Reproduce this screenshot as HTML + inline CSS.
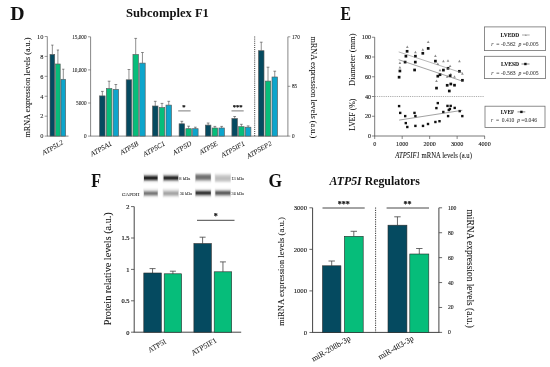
<!DOCTYPE html>
<html><head><meta charset="utf-8"><title>Figure</title>
<style>
html,body{margin:0;padding:0;background:#fff;}
svg{display:block;font-family:"Liberation Serif",serif;}
</style></head><body>
<svg width="550" height="367" viewBox="0 0 550 367">
<rect width="550" height="367" fill="#fff"/>
<g transform="translate(10.2 20.3) scale(1.0762 1)"><text x="0.00" y="0" font-size="18.4" fill="#111" stroke="#111" stroke-width="0" xml:space="preserve"><tspan font-weight="bold" font-style="normal">D</tspan></text></g>
<g transform="translate(340.4 20.3) scale(0.8556 1)"><text x="0.00" y="0" font-size="18.4" fill="#111" stroke="#111" stroke-width="0" xml:space="preserve"><tspan font-weight="bold" font-style="normal">E</tspan></text></g>
<g transform="translate(91.2 187.4) scale(0.8719 1)"><text x="0.00" y="0" font-size="18.4" fill="#111" stroke="#111" stroke-width="0" xml:space="preserve"><tspan font-weight="bold" font-style="normal">F</tspan></text></g>
<g transform="translate(268.5 187.2) scale(0.9502 1)"><text x="0.00" y="0" font-size="18.4" fill="#111" stroke="#111" stroke-width="0" xml:space="preserve"><tspan font-weight="bold" font-style="normal">G</tspan></text></g>
<g transform="translate(126 17.0) scale(0.9926 1)"><text x="0.00" y="0" font-size="12.7" fill="#111" stroke="#111" stroke-width="0" xml:space="preserve"><tspan font-weight="bold" font-style="normal">Subcomplex F1</tspan></text></g>
<g transform="translate(329.5 184.8) scale(0.9318 1)"><text x="0.00" y="0" font-size="12.7" fill="#111" stroke="#111" stroke-width="0" xml:space="preserve"><tspan font-weight="bold" font-style="italic">ATP5I</tspan><tspan font-weight="bold" font-style="normal"> Regulators</tspan></text></g>
<line x1="47.3" y1="36.5" x2="47.3" y2="136.1" stroke="#555" stroke-width="0.7"/>
<line x1="47.0" y1="136.1" x2="68.5" y2="136.1" stroke="#555" stroke-width="0.7"/>
<line x1="44.699999999999996" y1="36.5" x2="47.3" y2="36.5" stroke="#555" stroke-width="0.6"/>
<g transform="translate(43.5 38.8) scale(0.9200 1)"><text x="-7.00" y="0" font-size="7.0" fill="#111" stroke="#111" stroke-width="0.06" xml:space="preserve"><tspan font-weight="normal" font-style="normal">10</tspan></text></g>
<line x1="44.699999999999996" y1="56.42" x2="47.3" y2="56.42" stroke="#555" stroke-width="0.6"/>
<g transform="translate(43.5 58.72) scale(0.9200 1)"><text x="-3.50" y="0" font-size="7.0" fill="#111" stroke="#111" stroke-width="0.06" xml:space="preserve"><tspan font-weight="normal" font-style="normal">8</tspan></text></g>
<line x1="44.699999999999996" y1="76.34" x2="47.3" y2="76.34" stroke="#555" stroke-width="0.6"/>
<g transform="translate(43.5 78.64) scale(0.9200 1)"><text x="-3.50" y="0" font-size="7.0" fill="#111" stroke="#111" stroke-width="0.06" xml:space="preserve"><tspan font-weight="normal" font-style="normal">6</tspan></text></g>
<line x1="44.699999999999996" y1="96.26" x2="47.3" y2="96.26" stroke="#555" stroke-width="0.6"/>
<g transform="translate(43.5 98.56) scale(0.9200 1)"><text x="-3.50" y="0" font-size="7.0" fill="#111" stroke="#111" stroke-width="0.06" xml:space="preserve"><tspan font-weight="normal" font-style="normal">4</tspan></text></g>
<line x1="44.699999999999996" y1="116.18" x2="47.3" y2="116.18" stroke="#555" stroke-width="0.6"/>
<g transform="translate(43.5 118.48) scale(0.9200 1)"><text x="-3.50" y="0" font-size="7.0" fill="#111" stroke="#111" stroke-width="0.06" xml:space="preserve"><tspan font-weight="normal" font-style="normal">2</tspan></text></g>
<line x1="44.699999999999996" y1="136.10000000000002" x2="47.3" y2="136.10000000000002" stroke="#555" stroke-width="0.6"/>
<g transform="translate(43.5 138.40000000000003) scale(0.9200 1)"><text x="-3.50" y="0" font-size="7.0" fill="#111" stroke="#111" stroke-width="0.06" xml:space="preserve"><tspan font-weight="normal" font-style="normal">0</tspan></text></g>
<line x1="52.35" y1="45.1" x2="52.35" y2="54.5" stroke="#444" stroke-width="0.6"/>
<line x1="51.175" y1="45.1" x2="53.525000000000006" y2="45.1" stroke="#444" stroke-width="0.6"/>
<rect x="50" y="54.5" width="4.70" height="81.60" fill="#054a60" stroke="#5a5a5a" stroke-width="0.65"/>
<line x1="57.900000000000006" y1="50" x2="57.900000000000006" y2="64" stroke="#444" stroke-width="0.6"/>
<line x1="56.75000000000001" y1="50" x2="59.050000000000004" y2="50" stroke="#444" stroke-width="0.6"/>
<rect x="55.6" y="64" width="4.60" height="72.10" fill="#06bd7a" stroke="#5a5a5a" stroke-width="0.65"/>
<line x1="63.3" y1="69.2" x2="63.3" y2="79.3" stroke="#444" stroke-width="0.6"/>
<line x1="62.15" y1="69.2" x2="64.44999999999999" y2="69.2" stroke="#444" stroke-width="0.6"/>
<rect x="61" y="79.3" width="4.60" height="56.80" fill="#0ca5cc" stroke="#5a5a5a" stroke-width="0.65"/>
<g transform="translate(30.0 87.5) rotate(-90) scale(0.9793 1)"><text x="-51.06" y="0" font-size="8.3" fill="#111" stroke="#111" stroke-width="0.08" xml:space="preserve"><tspan font-weight="normal" font-style="normal">mRNA expression levels (a.u.)</tspan></text></g>
<line x1="90.6" y1="36.8" x2="90.6" y2="136.1" stroke="#555" stroke-width="0.7"/>
<line x1="90.3" y1="136.1" x2="288.2" y2="136.1" stroke="#555" stroke-width="0.7"/>
<line x1="88.0" y1="36.8" x2="90.6" y2="36.8" stroke="#555" stroke-width="0.6"/>
<g transform="translate(86.6 38.9) scale(0.8200 1)"><text x="-17.60" y="0" font-size="6.4" fill="#111" stroke="#111" stroke-width="0.08" xml:space="preserve"><tspan font-weight="normal" font-style="normal">15,000</tspan></text></g>
<line x1="88.0" y1="69.9" x2="90.6" y2="69.9" stroke="#555" stroke-width="0.6"/>
<g transform="translate(86.6 72.0) scale(0.8200 1)"><text x="-17.60" y="0" font-size="6.4" fill="#111" stroke="#111" stroke-width="0.08" xml:space="preserve"><tspan font-weight="normal" font-style="normal">10,000</tspan></text></g>
<line x1="88.0" y1="103.0" x2="90.6" y2="103.0" stroke="#555" stroke-width="0.6"/>
<g transform="translate(86.6 105.1) scale(0.8200 1)"><text x="-12.80" y="0" font-size="6.4" fill="#111" stroke="#111" stroke-width="0.08" xml:space="preserve"><tspan font-weight="normal" font-style="normal">5000</tspan></text></g>
<line x1="88.0" y1="136.10000000000002" x2="90.6" y2="136.10000000000002" stroke="#555" stroke-width="0.6"/>
<g transform="translate(86.6 138.20000000000002) scale(0.8200 1)"><text x="-3.20" y="0" font-size="6.4" fill="#111" stroke="#111" stroke-width="0.08" xml:space="preserve"><tspan font-weight="normal" font-style="normal">0</tspan></text></g>
<line x1="102.35" y1="91.4" x2="102.35" y2="95.9" stroke="#444" stroke-width="0.6"/>
<line x1="100.975" y1="91.4" x2="103.725" y2="91.4" stroke="#444" stroke-width="0.6"/>
<rect x="99.6" y="95.9" width="5.50" height="40.20" fill="#054a60" stroke="#5a5a5a" stroke-width="0.65"/>
<line x1="109.1" y1="81.2" x2="109.1" y2="88.6" stroke="#444" stroke-width="0.6"/>
<line x1="107.725" y1="81.2" x2="110.475" y2="81.2" stroke="#444" stroke-width="0.6"/>
<rect x="106.35" y="88.6" width="5.50" height="47.50" fill="#06bd7a" stroke="#5a5a5a" stroke-width="0.65"/>
<line x1="115.85" y1="84.5" x2="115.85" y2="89.4" stroke="#444" stroke-width="0.6"/>
<line x1="114.475" y1="84.5" x2="117.225" y2="84.5" stroke="#444" stroke-width="0.6"/>
<rect x="113.1" y="89.4" width="5.50" height="46.70" fill="#0ca5cc" stroke="#5a5a5a" stroke-width="0.65"/>
<line x1="128.95" y1="69.5" x2="128.95" y2="79.8" stroke="#444" stroke-width="0.6"/>
<line x1="127.57499999999999" y1="69.5" x2="130.325" y2="69.5" stroke="#444" stroke-width="0.6"/>
<rect x="126.2" y="79.8" width="5.50" height="56.30" fill="#054a60" stroke="#5a5a5a" stroke-width="0.65"/>
<line x1="135.7" y1="38.4" x2="135.7" y2="54.5" stroke="#444" stroke-width="0.6"/>
<line x1="134.325" y1="38.4" x2="137.075" y2="38.4" stroke="#444" stroke-width="0.6"/>
<rect x="132.95" y="54.5" width="5.50" height="81.60" fill="#06bd7a" stroke="#5a5a5a" stroke-width="0.65"/>
<line x1="142.45" y1="52.5" x2="142.45" y2="63.1" stroke="#444" stroke-width="0.6"/>
<line x1="141.075" y1="52.5" x2="143.825" y2="52.5" stroke="#444" stroke-width="0.6"/>
<rect x="139.7" y="63.1" width="5.50" height="73.00" fill="#0ca5cc" stroke="#5a5a5a" stroke-width="0.65"/>
<line x1="155.25" y1="101.3" x2="155.25" y2="106.0" stroke="#444" stroke-width="0.6"/>
<line x1="153.875" y1="101.3" x2="156.625" y2="101.3" stroke="#444" stroke-width="0.6"/>
<rect x="152.5" y="106.0" width="5.50" height="30.10" fill="#054a60" stroke="#5a5a5a" stroke-width="0.65"/>
<line x1="162.0" y1="103.4" x2="162.0" y2="107.6" stroke="#444" stroke-width="0.6"/>
<line x1="160.625" y1="103.4" x2="163.375" y2="103.4" stroke="#444" stroke-width="0.6"/>
<rect x="159.25" y="107.6" width="5.50" height="28.50" fill="#06bd7a" stroke="#5a5a5a" stroke-width="0.65"/>
<line x1="168.75" y1="101.3" x2="168.75" y2="105.1" stroke="#444" stroke-width="0.6"/>
<line x1="167.375" y1="101.3" x2="170.125" y2="101.3" stroke="#444" stroke-width="0.6"/>
<rect x="166.0" y="105.1" width="5.50" height="31.00" fill="#0ca5cc" stroke="#5a5a5a" stroke-width="0.65"/>
<line x1="181.85" y1="121.3" x2="181.85" y2="123.8" stroke="#444" stroke-width="0.6"/>
<line x1="180.475" y1="121.3" x2="183.225" y2="121.3" stroke="#444" stroke-width="0.6"/>
<rect x="179.1" y="123.8" width="5.50" height="12.30" fill="#054a60" stroke="#5a5a5a" stroke-width="0.65"/>
<line x1="188.6" y1="126.2" x2="188.6" y2="128.7" stroke="#444" stroke-width="0.6"/>
<line x1="187.225" y1="126.2" x2="189.975" y2="126.2" stroke="#444" stroke-width="0.6"/>
<rect x="185.85" y="128.7" width="5.50" height="7.40" fill="#06bd7a" stroke="#5a5a5a" stroke-width="0.65"/>
<line x1="195.35" y1="127.2" x2="195.35" y2="128.7" stroke="#444" stroke-width="0.6"/>
<line x1="193.975" y1="127.2" x2="196.725" y2="127.2" stroke="#444" stroke-width="0.6"/>
<rect x="192.6" y="128.7" width="5.50" height="7.40" fill="#0ca5cc" stroke="#5a5a5a" stroke-width="0.65"/>
<line x1="208.15" y1="123.0" x2="208.15" y2="125.1" stroke="#444" stroke-width="0.6"/>
<line x1="206.775" y1="123.0" x2="209.525" y2="123.0" stroke="#444" stroke-width="0.6"/>
<rect x="205.4" y="125.1" width="5.50" height="11.00" fill="#054a60" stroke="#5a5a5a" stroke-width="0.65"/>
<line x1="214.9" y1="126.4" x2="214.9" y2="128.0" stroke="#444" stroke-width="0.6"/>
<line x1="213.525" y1="126.4" x2="216.275" y2="126.4" stroke="#444" stroke-width="0.6"/>
<rect x="212.15" y="128.0" width="5.50" height="8.10" fill="#06bd7a" stroke="#5a5a5a" stroke-width="0.65"/>
<line x1="221.65" y1="126.4" x2="221.65" y2="128.0" stroke="#444" stroke-width="0.6"/>
<line x1="220.275" y1="126.4" x2="223.025" y2="126.4" stroke="#444" stroke-width="0.6"/>
<rect x="218.9" y="128.0" width="5.50" height="8.10" fill="#0ca5cc" stroke="#5a5a5a" stroke-width="0.65"/>
<line x1="234.65" y1="116.5" x2="234.65" y2="118.6" stroke="#444" stroke-width="0.6"/>
<line x1="233.275" y1="116.5" x2="236.025" y2="116.5" stroke="#444" stroke-width="0.6"/>
<rect x="231.9" y="118.6" width="5.50" height="17.50" fill="#054a60" stroke="#5a5a5a" stroke-width="0.65"/>
<line x1="241.4" y1="124.3" x2="241.4" y2="126.7" stroke="#444" stroke-width="0.6"/>
<line x1="240.025" y1="124.3" x2="242.775" y2="124.3" stroke="#444" stroke-width="0.6"/>
<rect x="238.65" y="126.7" width="5.50" height="9.40" fill="#06bd7a" stroke="#5a5a5a" stroke-width="0.65"/>
<line x1="248.15" y1="125.9" x2="248.15" y2="127.2" stroke="#444" stroke-width="0.6"/>
<line x1="246.775" y1="125.9" x2="249.525" y2="125.9" stroke="#444" stroke-width="0.6"/>
<rect x="245.4" y="127.2" width="5.50" height="8.90" fill="#0ca5cc" stroke="#5a5a5a" stroke-width="0.65"/>
<line x1="261.25" y1="42.2" x2="261.25" y2="50.7" stroke="#444" stroke-width="0.6"/>
<line x1="259.875" y1="42.2" x2="262.625" y2="42.2" stroke="#444" stroke-width="0.6"/>
<rect x="258.5" y="50.7" width="5.50" height="85.40" fill="#054a60" stroke="#5a5a5a" stroke-width="0.65"/>
<line x1="268.0" y1="67.2" x2="268.0" y2="81.1" stroke="#444" stroke-width="0.6"/>
<line x1="266.625" y1="67.2" x2="269.375" y2="67.2" stroke="#444" stroke-width="0.6"/>
<rect x="265.25" y="81.1" width="5.50" height="55.00" fill="#06bd7a" stroke="#5a5a5a" stroke-width="0.65"/>
<line x1="274.75" y1="71.2" x2="274.75" y2="77.0" stroke="#444" stroke-width="0.6"/>
<line x1="273.375" y1="71.2" x2="276.125" y2="71.2" stroke="#444" stroke-width="0.6"/>
<rect x="272.0" y="77.0" width="5.50" height="59.10" fill="#0ca5cc" stroke="#5a5a5a" stroke-width="0.65"/>
<line x1="254.7" y1="36.5" x2="254.7" y2="136.1" stroke="#222" stroke-width="0.9" stroke-dasharray="1 1.1"/>
<line x1="287.9" y1="36.8" x2="287.9" y2="136.1" stroke="#555" stroke-width="0.7"/>
<line x1="287.9" y1="36.8" x2="290.29999999999995" y2="36.8" stroke="#555" stroke-width="0.6"/>
<g transform="translate(292.0 38.9) scale(0.8200 1)"><text x="0.00" y="0" font-size="6.4" fill="#111" stroke="#111" stroke-width="0.08" xml:space="preserve"><tspan font-weight="normal" font-style="normal">170</tspan></text></g>
<line x1="287.9" y1="86.3" x2="290.29999999999995" y2="86.3" stroke="#555" stroke-width="0.6"/>
<g transform="translate(292.0 88.39999999999999) scale(0.8200 1)"><text x="0.00" y="0" font-size="6.4" fill="#111" stroke="#111" stroke-width="0.08" xml:space="preserve"><tspan font-weight="normal" font-style="normal">85</tspan></text></g>
<line x1="287.9" y1="136.1" x2="290.29999999999995" y2="136.1" stroke="#555" stroke-width="0.6"/>
<g transform="translate(292.0 138.2) scale(0.8200 1)"><text x="0.00" y="0" font-size="6.4" fill="#111" stroke="#111" stroke-width="0.08" xml:space="preserve"><tspan font-weight="normal" font-style="normal">0</tspan></text></g>
<g transform="translate(311.2 87.4) rotate(90) scale(0.9870 1)"><text x="-51.67" y="0" font-size="8.4" fill="#111" stroke="#111" stroke-width="0.06" xml:space="preserve"><tspan font-weight="normal" font-style="normal">mRNA expression levels (a.u.)</tspan></text></g>
<line x1="178.2" y1="110.9" x2="190.6" y2="110.9" stroke="#444" stroke-width="0.7"/>
<text x="184" y="109.0" font-size="6.6" text-anchor="middle" font-weight="bold" font-style="normal" fill="#111" stroke="#111" stroke-width="0.18">*</text>
<line x1="231.5" y1="110.9" x2="243.7" y2="110.9" stroke="#444" stroke-width="0.7"/>
<text x="237.6" y="109.0" font-size="6.6" text-anchor="middle" font-weight="bold" font-style="normal" fill="#111" stroke="#111" stroke-width="0.18">***</text>
<text x="63.8" y="143.8" font-size="7" text-anchor="end" font-weight="normal" font-style="italic" fill="#222" stroke="#222" stroke-width="0.05" transform="rotate(-30 63.8 143.8)">ATP5L2</text>
<text x="112.4" y="144.8" font-size="7" text-anchor="end" font-weight="normal" font-style="italic" fill="#222" stroke="#222" stroke-width="0.05" transform="rotate(-30 112.4 144.8)">ATP5A1</text>
<text x="139" y="145.1" font-size="7" text-anchor="end" font-weight="normal" font-style="italic" fill="#222" stroke="#222" stroke-width="0.05" transform="rotate(-30 139 145.1)">ATP5B</text>
<text x="165.5" y="144.8" font-size="7" text-anchor="end" font-weight="normal" font-style="italic" fill="#222" stroke="#222" stroke-width="0.05" transform="rotate(-30 165.5 144.8)">ATP5C1</text>
<text x="192.2" y="144.8" font-size="7" text-anchor="end" font-weight="normal" font-style="italic" fill="#222" stroke="#222" stroke-width="0.05" transform="rotate(-30 192.2 144.8)">ATP5D</text>
<text x="218.2" y="144.8" font-size="7" text-anchor="end" font-weight="normal" font-style="italic" fill="#222" stroke="#222" stroke-width="0.05" transform="rotate(-30 218.2 144.8)">ATP5E</text>
<text x="245.2" y="144.8" font-size="7" text-anchor="end" font-weight="normal" font-style="italic" fill="#222" stroke="#222" stroke-width="0.05" transform="rotate(-30 245.2 144.8)">ATP5IF1</text>
<text x="272.2" y="144.8" font-size="7" text-anchor="end" font-weight="normal" font-style="italic" fill="#222" stroke="#222" stroke-width="0.05" transform="rotate(-30 272.2 144.8)">ATP5EP2</text>
<line x1="374.7" y1="37.2" x2="374.7" y2="136.0" stroke="#555" stroke-width="0.8"/>
<line x1="374.3" y1="136.0" x2="484.9" y2="136.0" stroke="#555" stroke-width="0.8"/>
<line x1="371.9" y1="136.0" x2="374.7" y2="136.0" stroke="#555" stroke-width="0.7"/>
<text x="371.09999999999997" y="138.1" font-size="6.2" text-anchor="end" font-weight="normal" font-style="normal" fill="#111" stroke="#111" stroke-width="0.1">0</text>
<line x1="371.9" y1="116.25" x2="374.7" y2="116.25" stroke="#555" stroke-width="0.7"/>
<text x="371.09999999999997" y="118.35" font-size="6.2" text-anchor="end" font-weight="normal" font-style="normal" fill="#111" stroke="#111" stroke-width="0.1">20</text>
<line x1="371.9" y1="96.5" x2="374.7" y2="96.5" stroke="#555" stroke-width="0.7"/>
<text x="371.09999999999997" y="98.6" font-size="6.2" text-anchor="end" font-weight="normal" font-style="normal" fill="#111" stroke="#111" stroke-width="0.1">40</text>
<line x1="371.9" y1="76.75" x2="374.7" y2="76.75" stroke="#555" stroke-width="0.7"/>
<text x="371.09999999999997" y="78.85" font-size="6.2" text-anchor="end" font-weight="normal" font-style="normal" fill="#111" stroke="#111" stroke-width="0.1">60</text>
<line x1="371.9" y1="57.0" x2="374.7" y2="57.0" stroke="#555" stroke-width="0.7"/>
<text x="371.09999999999997" y="59.1" font-size="6.2" text-anchor="end" font-weight="normal" font-style="normal" fill="#111" stroke="#111" stroke-width="0.1">80</text>
<line x1="371.9" y1="37.25" x2="374.7" y2="37.25" stroke="#555" stroke-width="0.7"/>
<text x="371.09999999999997" y="39.35" font-size="6.2" text-anchor="end" font-weight="normal" font-style="normal" fill="#111" stroke="#111" stroke-width="0.1">100</text>
<line x1="374.7" y1="136.0" x2="374.7" y2="139.0" stroke="#555" stroke-width="0.7"/>
<text x="374.7" y="146.1" font-size="6.1" text-anchor="middle" font-weight="normal" font-style="normal" fill="#111" stroke="#111" stroke-width="0.1">0</text>
<line x1="402.18" y1="136.0" x2="402.18" y2="139.0" stroke="#555" stroke-width="0.7"/>
<text x="402.18" y="146.1" font-size="6.1" text-anchor="middle" font-weight="normal" font-style="normal" fill="#111" stroke="#111" stroke-width="0.1">1000</text>
<line x1="429.65999999999997" y1="136.0" x2="429.65999999999997" y2="139.0" stroke="#555" stroke-width="0.7"/>
<text x="429.65999999999997" y="146.1" font-size="6.1" text-anchor="middle" font-weight="normal" font-style="normal" fill="#111" stroke="#111" stroke-width="0.1">2000</text>
<line x1="457.14" y1="136.0" x2="457.14" y2="139.0" stroke="#555" stroke-width="0.7"/>
<text x="457.14" y="146.1" font-size="6.1" text-anchor="middle" font-weight="normal" font-style="normal" fill="#111" stroke="#111" stroke-width="0.1">3000</text>
<line x1="484.62" y1="136.0" x2="484.62" y2="139.0" stroke="#555" stroke-width="0.7"/>
<text x="484.62" y="146.1" font-size="6.1" text-anchor="middle" font-weight="normal" font-style="normal" fill="#111" stroke="#111" stroke-width="0.1">4000</text>
<line x1="374.7" y1="96.5" x2="484.6" y2="96.5" stroke="#8a8a8a" stroke-width="0.7" stroke-dasharray="1.2 1"/>
<g transform="translate(355.3 59.7) rotate(-90) scale(1.0215 1)"><text x="-25.70" y="0" font-size="8.3" fill="#111" stroke="#111" stroke-width="0.06" xml:space="preserve"><tspan font-weight="normal" font-style="normal">Diameter (mm)</tspan></text></g>
<g transform="translate(355.3 114.7) rotate(-90) scale(0.9274 1)"><text x="-17.25" y="0" font-size="8.3" fill="#111" stroke="#111" stroke-width="0.06" xml:space="preserve"><tspan font-weight="normal" font-style="normal">LVEF (%)</tspan></text></g>
<g transform="translate(395.2 157.8) scale(0.9168 1)"><text x="0.00" y="0" font-size="7.3" fill="#111" stroke="#111" stroke-width="0.06" xml:space="preserve"><tspan font-weight="normal" font-style="italic">ATP5IF1</tspan><tspan font-weight="normal" font-style="normal"> mRNA levels (a.u)</tspan></text></g>
<path d="M398.55 68.50L401.25 68.50L399.90 66.05Z" fill="#8c8c8c"/>
<path d="M398.55 63.90L401.25 63.90L399.90 61.45Z" fill="#8c8c8c"/>
<path d="M405.95 47.90L408.65 47.90L407.30 45.45Z" fill="#8c8c8c"/>
<path d="M414.05 53.30L416.75 53.30L415.40 50.85Z" fill="#8c8c8c"/>
<path d="M421.45 50.80L424.15 50.80L422.80 48.35Z" fill="#8c8c8c"/>
<path d="M426.85 43.00L429.55 43.00L428.20 40.55Z" fill="#8c8c8c"/>
<path d="M434.05 56.90L436.75 56.90L435.40 54.45Z" fill="#8c8c8c"/>
<path d="M435.15 81.90L437.85 81.90L436.50 79.45Z" fill="#8c8c8c"/>
<path d="M436.45 65.00L439.15 65.00L437.80 62.55Z" fill="#8c8c8c"/>
<path d="M442.05 62.20L444.75 62.20L443.40 59.75Z" fill="#8c8c8c"/>
<path d="M438.65 71.20L441.35 71.20L440.00 68.75Z" fill="#8c8c8c"/>
<path d="M446.65 61.80L449.35 61.80L448.00 59.35Z" fill="#8c8c8c"/>
<path d="M445.85 77.80L448.55 77.80L447.20 75.35Z" fill="#8c8c8c"/>
<path d="M448.75 67.10L451.45 67.10L450.10 64.65Z" fill="#8c8c8c"/>
<path d="M449.45 75.30L452.15 75.30L450.80 72.85Z" fill="#8c8c8c"/>
<path d="M453.15 77.80L455.85 77.80L454.50 75.35Z" fill="#8c8c8c"/>
<path d="M458.05 62.20L460.75 62.20L459.40 59.75Z" fill="#8c8c8c"/>
<path d="M461.05 74.70L463.75 74.70L462.40 72.25Z" fill="#8c8c8c"/>
<rect x="397.75" y="75.85" width="2.7" height="2.7" fill="#111"/>
<rect x="398.55" y="69.65" width="2.7" height="2.7" fill="#111"/>
<rect x="403.75" y="60.75" width="2.7" height="2.7" fill="#111"/>
<rect x="404.55" y="54.85" width="2.7" height="2.7" fill="#111"/>
<rect x="405.75" y="49.95" width="2.7" height="2.7" fill="#111"/>
<rect x="413.25" y="68.65" width="2.7" height="2.7" fill="#111"/>
<rect x="413.95" y="60.75" width="2.7" height="2.7" fill="#111"/>
<rect x="414.05" y="54.85" width="2.7" height="2.7" fill="#111"/>
<rect x="421.45" y="51.95" width="2.7" height="2.7" fill="#111"/>
<rect x="426.85" y="47.05" width="2.7" height="2.7" fill="#111"/>
<rect x="434.05" y="59.75" width="2.7" height="2.7" fill="#111"/>
<rect x="435.15" y="86.75" width="2.7" height="2.7" fill="#111"/>
<rect x="436.45" y="74.85" width="2.7" height="2.7" fill="#111"/>
<rect x="438.65" y="73.35" width="2.7" height="2.7" fill="#111"/>
<rect x="442.05" y="68.75" width="2.7" height="2.7" fill="#111"/>
<rect x="445.85" y="83.95" width="2.7" height="2.7" fill="#111"/>
<rect x="446.65" y="66.95" width="2.7" height="2.7" fill="#111"/>
<rect x="447.95" y="89.65" width="2.7" height="2.7" fill="#111"/>
<rect x="448.75" y="74.45" width="2.7" height="2.7" fill="#111"/>
<rect x="449.45" y="82.65" width="2.7" height="2.7" fill="#111"/>
<rect x="453.15" y="83.85" width="2.7" height="2.7" fill="#111"/>
<rect x="458.05" y="69.95" width="2.7" height="2.7" fill="#111"/>
<rect x="461.05" y="78.95" width="2.7" height="2.7" fill="#111"/>
<line x1="398.7" y1="51.9" x2="462.9" y2="73.2" stroke="#888" stroke-width="0.6"/>
<line x1="398.7" y1="59.7" x2="462.9" y2="81.3" stroke="#555" stroke-width="0.55"/>
<rect x="397.90" y="104.90" width="2.4" height="2.4" fill="#111"/>
<rect x="399.00" y="111.70" width="2.4" height="2.4" fill="#111"/>
<rect x="404.00" y="114.90" width="2.4" height="2.4" fill="#111"/>
<rect x="404.60" y="121.90" width="2.4" height="2.4" fill="#111"/>
<rect x="406.10" y="125.80" width="2.4" height="2.4" fill="#111"/>
<rect x="413.30" y="111.70" width="2.4" height="2.4" fill="#111"/>
<rect x="414.20" y="114.90" width="2.4" height="2.4" fill="#111"/>
<rect x="414.20" y="124.70" width="2.4" height="2.4" fill="#111"/>
<rect x="421.80" y="124.70" width="2.4" height="2.4" fill="#111"/>
<rect x="426.80" y="122.80" width="2.4" height="2.4" fill="#111"/>
<rect x="434.20" y="120.80" width="2.4" height="2.4" fill="#111"/>
<rect x="435.20" y="106.90" width="2.4" height="2.4" fill="#111"/>
<rect x="436.60" y="101.90" width="2.4" height="2.4" fill="#111"/>
<rect x="438.30" y="120.00" width="2.4" height="2.4" fill="#111"/>
<rect x="442.10" y="110.80" width="2.4" height="2.4" fill="#111"/>
<rect x="446.30" y="104.70" width="2.4" height="2.4" fill="#111"/>
<rect x="446.90" y="114.90" width="2.4" height="2.4" fill="#111"/>
<rect x="447.60" y="108.80" width="2.4" height="2.4" fill="#111"/>
<rect x="448.70" y="107.80" width="2.4" height="2.4" fill="#111"/>
<rect x="449.50" y="104.70" width="2.4" height="2.4" fill="#111"/>
<rect x="453.50" y="106.70" width="2.4" height="2.4" fill="#111"/>
<rect x="458.50" y="109.90" width="2.4" height="2.4" fill="#111"/>
<rect x="461.10" y="114.90" width="2.4" height="2.4" fill="#111"/>
<line x1="399.1" y1="120.1" x2="462.3" y2="110.3" stroke="#555" stroke-width="0.55"/>
<rect x="484.5" y="26.9" width="61.00" height="23.70" fill="#fff" stroke="#707070" stroke-width="0.8"/>
<rect x="484.5" y="56.3" width="61.00" height="22.30" fill="#fff" stroke="#707070" stroke-width="0.8"/>
<rect x="485" y="106.2" width="60.00" height="21.30" fill="#fff" stroke="#707070" stroke-width="0.8"/>
<g transform="translate(500.6 37.1) scale(0.8945 1)"><text x="0.00" y="0" font-size="6.1" fill="#111" stroke="#111" stroke-width="0.05" xml:space="preserve"><tspan font-weight="bold" font-style="normal">LVEDD</tspan></text></g>
<line x1="522" y1="35" x2="529.7" y2="35" stroke="#888" stroke-width="0.7"/>
<path d="M524.8 35.9L526.8 35.9L525.8 33.9Z" fill="#999"/>
<g transform="translate(491.3 46) scale(0.8870 1)"><text x="0.00" y="0" font-size="6.4" fill="#333" stroke="#333" stroke-width="0.04" xml:space="preserve"><tspan font-weight="normal" font-style="italic">r</tspan><tspan font-weight="normal" font-style="normal">  = -0.562  </tspan><tspan font-weight="normal" font-style="italic">p</tspan><tspan font-weight="normal" font-style="normal"> =0.005</tspan></text></g>
<g transform="translate(500.9 65.8) scale(0.9201 1)"><text x="0.00" y="0" font-size="6.1" fill="#111" stroke="#111" stroke-width="0.05" xml:space="preserve"><tspan font-weight="bold" font-style="normal">LVESD</tspan></text></g>
<line x1="521.5" y1="64" x2="529.5" y2="64" stroke="#333" stroke-width="0.6"/>
<rect x="524.2" y="62.8" width="2.4" height="2.4" fill="#111"/>
<g transform="translate(491.3 75) scale(0.8870 1)"><text x="0.00" y="0" font-size="6.4" fill="#333" stroke="#333" stroke-width="0.04" xml:space="preserve"><tspan font-weight="normal" font-style="italic">r</tspan><tspan font-weight="normal" font-style="normal">  = -0.563  </tspan><tspan font-weight="normal" font-style="italic">p</tspan><tspan font-weight="normal" font-style="normal"> =0.005</tspan></text></g>
<g transform="translate(500.8 113.9) scale(0.8530 1)"><text x="0.00" y="0" font-size="6.1" fill="#111" stroke="#111" stroke-width="0.05" xml:space="preserve"><tspan font-weight="bold" font-style="normal">LVEF</tspan></text></g>
<line x1="517.5" y1="111.9" x2="525.3" y2="111.9" stroke="#333" stroke-width="0.6"/>
<rect x="520.2" y="110.7" width="2.4" height="2.4" fill="#111"/>
<g transform="translate(491 122.1) scale(0.8694 1)"><text x="0.00" y="0" font-size="6.4" fill="#333" stroke="#333" stroke-width="0.04" xml:space="preserve"><tspan font-weight="normal" font-style="italic">r</tspan><tspan font-weight="normal" font-style="normal">  =  0.410  </tspan><tspan font-weight="normal" font-style="italic">p</tspan><tspan font-weight="normal" font-style="normal"> =0.046</tspan></text></g>
<line x1="134.2" y1="206.6" x2="134.2" y2="332.2" stroke="#444" stroke-width="1"/>
<line x1="133.7" y1="332.2" x2="241.2" y2="332.2" stroke="#444" stroke-width="1"/>
<line x1="131.0" y1="206.6" x2="134.2" y2="206.6" stroke="#444" stroke-width="0.8"/>
<text x="129.39999999999998" y="208.9" font-size="6.4" text-anchor="end" font-weight="normal" font-style="normal" fill="#111" stroke="#111" stroke-width="0.18">2</text>
<line x1="131.0" y1="238.0" x2="134.2" y2="238.0" stroke="#444" stroke-width="0.8"/>
<text x="129.39999999999998" y="240.3" font-size="6.4" text-anchor="end" font-weight="normal" font-style="normal" fill="#111" stroke="#111" stroke-width="0.18">1.5</text>
<line x1="131.0" y1="269.4" x2="134.2" y2="269.4" stroke="#444" stroke-width="0.8"/>
<text x="129.39999999999998" y="271.7" font-size="6.4" text-anchor="end" font-weight="normal" font-style="normal" fill="#111" stroke="#111" stroke-width="0.18">1</text>
<line x1="131.0" y1="300.79999999999995" x2="134.2" y2="300.79999999999995" stroke="#444" stroke-width="0.8"/>
<text x="129.39999999999998" y="303.09999999999997" font-size="6.4" text-anchor="end" font-weight="normal" font-style="normal" fill="#111" stroke="#111" stroke-width="0.18">0.5</text>
<line x1="131.0" y1="332.2" x2="134.2" y2="332.2" stroke="#444" stroke-width="0.8"/>
<text x="129.39999999999998" y="334.5" font-size="6.4" text-anchor="end" font-weight="normal" font-style="normal" fill="#111" stroke="#111" stroke-width="0.18">0</text>
<line x1="152.55" y1="268.6" x2="152.55" y2="273.0" stroke="#444" stroke-width="0.8"/>
<line x1="149.55" y1="268.6" x2="155.55" y2="268.6" stroke="#444" stroke-width="0.8"/>
<rect x="143.8" y="273.0" width="17.50" height="59.20" fill="#054a60" stroke="#2a2a2a" stroke-width="0.6"/>
<line x1="172.89999999999998" y1="271.2" x2="172.89999999999998" y2="273.8" stroke="#444" stroke-width="0.8"/>
<line x1="169.89999999999998" y1="271.2" x2="175.89999999999998" y2="271.2" stroke="#444" stroke-width="0.8"/>
<rect x="164.2" y="273.8" width="17.40" height="58.40" fill="#06bd7a" stroke="#2a2a2a" stroke-width="0.6"/>
<line x1="202.60000000000002" y1="237.2" x2="202.60000000000002" y2="243.6" stroke="#444" stroke-width="0.8"/>
<line x1="199.60000000000002" y1="237.2" x2="205.60000000000002" y2="237.2" stroke="#444" stroke-width="0.8"/>
<rect x="193.9" y="243.6" width="17.40" height="88.60" fill="#054a60" stroke="#2a2a2a" stroke-width="0.6"/>
<line x1="222.95" y1="261.9" x2="222.95" y2="271.8" stroke="#444" stroke-width="0.8"/>
<line x1="219.95" y1="261.9" x2="225.95" y2="261.9" stroke="#444" stroke-width="0.8"/>
<rect x="214.2" y="271.8" width="17.50" height="60.40" fill="#06bd7a" stroke="#2a2a2a" stroke-width="0.6"/>
<line x1="197" y1="220.3" x2="234.5" y2="220.3" stroke="#333" stroke-width="0.9"/>
<text x="215.7" y="219.0" font-size="8" text-anchor="middle" font-weight="bold" font-style="normal" fill="#111" stroke="#111" stroke-width="0.18">*</text>
<g transform="translate(110.7 268.7) rotate(-90) scale(1.0736 1)"><text x="-52.63" y="0" font-size="9.5" fill="#111" stroke="#111" stroke-width="0.06" xml:space="preserve"><tspan font-weight="normal" font-style="normal">Protein relative levels (a.u.)</tspan></text></g>
<text x="166.6" y="343.0" font-size="7.4" text-anchor="end" font-weight="normal" font-style="normal" fill="#222" stroke="#222" stroke-width="0.05" transform="rotate(-30 166.6 343.0)">ATP5I</text>
<text x="217.2" y="341.8" font-size="7.6" text-anchor="end" font-weight="normal" font-style="normal" fill="#222" stroke="#222" stroke-width="0.05" transform="rotate(-30 217.2 341.8)">ATP5IF1</text>
<defs><filter id="bl" x="-20%" y="-50%" width="140%" height="200%"><feGaussianBlur stdDeviation="0.7 0.9"/></filter></defs>
<rect x="143.29999999999998" y="174.0" width="14.80" height="8.0" fill="#dedede" filter="url(#bl)"/>
<rect x="143.29999999999998" y="189.4" width="14.80" height="7.4" fill="#dadada" filter="url(#bl)"/>
<rect x="162.7" y="174.0" width="16.20" height="8.0" fill="#dedede" filter="url(#bl)"/>
<rect x="162.7" y="189.4" width="16.20" height="7.4" fill="#dadada" filter="url(#bl)"/>
<rect x="194.89999999999998" y="174.0" width="16.40" height="8.0" fill="#dedede" filter="url(#bl)"/>
<rect x="194.89999999999998" y="189.4" width="16.40" height="7.4" fill="#dadada" filter="url(#bl)"/>
<rect x="214.7" y="174.0" width="16.20" height="8.0" fill="#dedede" filter="url(#bl)"/>
<rect x="214.7" y="189.4" width="16.20" height="7.4" fill="#dadada" filter="url(#bl)"/>
<rect x="144.0" y="176.10" width="13.60" height="3.8" fill="#111" opacity="1" filter="url(#bl)"/>
<rect x="163.6" y="176.10" width="14.60" height="3.8" fill="#1a1a1a" opacity="1" filter="url(#bl)"/>
<rect x="195.6" y="174.50" width="15.20" height="5.4" fill="#707070" opacity="1" filter="url(#bl)"/>
<rect x="215.4" y="176.10" width="15.00" height="4.6" fill="#bdbdbd" opacity="1" filter="url(#bl)"/>
<rect x="144.0" y="191.80" width="13.60" height="3.2" fill="#6a6a6a" opacity="1" filter="url(#bl)"/>
<rect x="163.6" y="191.90" width="14.60" height="3.0" fill="#9a9a9a" opacity="1" filter="url(#bl)"/>
<rect x="195.6" y="191.30" width="15.20" height="3.4" fill="#1a1a1a" opacity="1" filter="url(#bl)"/>
<rect x="215.4" y="191.30" width="15.00" height="3.4" fill="#4a4a4a" opacity="1" filter="url(#bl)"/>
<g transform="translate(179.3 180.0) scale(1.0840 1)"><text x="0.00" y="0" font-size="4.2" fill="#222" stroke="#222" stroke-width="0.05" xml:space="preserve"><tspan font-weight="normal" font-style="normal">8 kDa</tspan></text></g>
<g transform="translate(231.4 180.0) scale(1.0288 1)"><text x="0.00" y="0" font-size="4.2" fill="#222" stroke="#222" stroke-width="0.05" xml:space="preserve"><tspan font-weight="normal" font-style="normal">13 kDa</tspan></text></g>
<g transform="translate(179.7 194.9) scale(1.0043 1)"><text x="0.00" y="0" font-size="4.2" fill="#222" stroke="#222" stroke-width="0.05" xml:space="preserve"><tspan font-weight="normal" font-style="normal">36 kDa</tspan></text></g>
<g transform="translate(231.6 194.9) scale(1.0043 1)"><text x="0.00" y="0" font-size="4.2" fill="#222" stroke="#222" stroke-width="0.05" xml:space="preserve"><tspan font-weight="normal" font-style="normal">36 kDa</tspan></text></g>
<g transform="translate(121.9 195.7) scale(1.0367 1)"><text x="0.00" y="0" font-size="4.9" fill="#222" stroke="#222" stroke-width="0.05" xml:space="preserve"><tspan font-weight="normal" font-style="normal">GAPDH</tspan></text></g>
<line x1="312.6" y1="207.8" x2="312.6" y2="332.4" stroke="#444" stroke-width="1"/>
<line x1="312.1" y1="332.4" x2="439.4" y2="332.4" stroke="#444" stroke-width="1"/>
<line x1="309.40000000000003" y1="207.8" x2="312.6" y2="207.8" stroke="#444" stroke-width="0.8"/>
<text x="307.0" y="210.0" font-size="6.7" text-anchor="end" font-weight="normal" font-style="normal" fill="#111" stroke="#111" stroke-width="0.1">3000</text>
<line x1="309.40000000000003" y1="249.35000000000002" x2="312.6" y2="249.35000000000002" stroke="#444" stroke-width="0.8"/>
<text x="307.0" y="251.55" font-size="6.7" text-anchor="end" font-weight="normal" font-style="normal" fill="#111" stroke="#111" stroke-width="0.1">2000</text>
<line x1="309.40000000000003" y1="290.9" x2="312.6" y2="290.9" stroke="#444" stroke-width="0.8"/>
<text x="307.0" y="293.09999999999997" font-size="6.7" text-anchor="end" font-weight="normal" font-style="normal" fill="#111" stroke="#111" stroke-width="0.1">1000</text>
<line x1="309.40000000000003" y1="332.45" x2="312.6" y2="332.45" stroke="#444" stroke-width="0.8"/>
<text x="307.0" y="334.65" font-size="6.7" text-anchor="end" font-weight="normal" font-style="normal" fill="#111" stroke="#111" stroke-width="0.1">0</text>
<line x1="331.7" y1="261.0" x2="331.7" y2="265.8" stroke="#444" stroke-width="0.8"/>
<line x1="328.5" y1="261.0" x2="334.9" y2="261.0" stroke="#444" stroke-width="0.8"/>
<rect x="322.5" y="265.8" width="18.40" height="66.60" fill="#054a60" stroke="#2a2a2a" stroke-width="0.6"/>
<line x1="353.79999999999995" y1="231.3" x2="353.79999999999995" y2="236.3" stroke="#444" stroke-width="0.8"/>
<line x1="350.59999999999997" y1="231.3" x2="356.99999999999994" y2="231.3" stroke="#444" stroke-width="0.8"/>
<rect x="344.4" y="236.3" width="18.80" height="96.10" fill="#06bd7a" stroke="#2a2a2a" stroke-width="0.6"/>
<line x1="397.45" y1="216.8" x2="397.45" y2="225.2" stroke="#444" stroke-width="0.8"/>
<line x1="394.25" y1="216.8" x2="400.65" y2="216.8" stroke="#444" stroke-width="0.8"/>
<rect x="388.0" y="225.2" width="18.90" height="107.20" fill="#054a60" stroke="#2a2a2a" stroke-width="0.6"/>
<line x1="419.3" y1="248.5" x2="419.3" y2="254.0" stroke="#444" stroke-width="0.8"/>
<line x1="416.1" y1="248.5" x2="422.5" y2="248.5" stroke="#444" stroke-width="0.8"/>
<rect x="409.8" y="254.0" width="19.00" height="78.40" fill="#06bd7a" stroke="#2a2a2a" stroke-width="0.6"/>
<line x1="322.5" y1="208" x2="364.7" y2="208" stroke="#333" stroke-width="0.9"/>
<line x1="386.6" y1="208" x2="429.0" y2="208" stroke="#333" stroke-width="0.9"/>
<text x="343.7" y="206.6" font-size="8" text-anchor="middle" font-weight="bold" font-style="normal" fill="#111" stroke="#111" stroke-width="0.18">***</text>
<text x="407.4" y="206.6" font-size="8" text-anchor="middle" font-weight="bold" font-style="normal" fill="#111" stroke="#111" stroke-width="0.18">**</text>
<line x1="375.6" y1="207.5" x2="375.6" y2="332.4" stroke="#222" stroke-width="0.9" stroke-dasharray="1.2 1.1"/>
<line x1="438.9" y1="207.8" x2="438.9" y2="332.4" stroke="#444" stroke-width="1"/>
<line x1="438.9" y1="207.8" x2="442.09999999999997" y2="207.8" stroke="#444" stroke-width="0.8"/>
<text x="447.9" y="209.8" font-size="5.7" text-anchor="start" font-weight="normal" font-style="normal" fill="#111" stroke="#111" stroke-width="0.1">100</text>
<line x1="438.9" y1="232.72000000000003" x2="442.09999999999997" y2="232.72000000000003" stroke="#444" stroke-width="0.8"/>
<text x="447.9" y="234.72000000000003" font-size="5.7" text-anchor="start" font-weight="normal" font-style="normal" fill="#111" stroke="#111" stroke-width="0.1">80</text>
<line x1="438.9" y1="257.64" x2="442.09999999999997" y2="257.64" stroke="#444" stroke-width="0.8"/>
<text x="447.9" y="259.64" font-size="5.7" text-anchor="start" font-weight="normal" font-style="normal" fill="#111" stroke="#111" stroke-width="0.1">60</text>
<line x1="438.9" y1="282.56" x2="442.09999999999997" y2="282.56" stroke="#444" stroke-width="0.8"/>
<text x="447.9" y="284.56" font-size="5.7" text-anchor="start" font-weight="normal" font-style="normal" fill="#111" stroke="#111" stroke-width="0.1">40</text>
<line x1="438.9" y1="307.48" x2="442.09999999999997" y2="307.48" stroke="#444" stroke-width="0.8"/>
<text x="447.9" y="309.48" font-size="5.7" text-anchor="start" font-weight="normal" font-style="normal" fill="#111" stroke="#111" stroke-width="0.1">20</text>
<line x1="438.9" y1="332.40000000000003" x2="442.09999999999997" y2="332.40000000000003" stroke="#444" stroke-width="0.8"/>
<text x="447.9" y="334.40000000000003" font-size="5.7" text-anchor="start" font-weight="normal" font-style="normal" fill="#111" stroke="#111" stroke-width="0.1">0</text>
<g transform="translate(284.2 271.6) rotate(-90) scale(0.9626 1)"><text x="-56.61" y="0" font-size="9" fill="#111" stroke="#111" stroke-width="0.06" xml:space="preserve"><tspan font-weight="normal" font-style="normal">miRNA expression levels (a.u.)</tspan></text></g>
<g transform="translate(467.3 268.7) rotate(90) scale(0.9611 1)"><text x="-61.65" y="0" font-size="9.8" fill="#111" stroke="#111" stroke-width="0.06" xml:space="preserve"><tspan font-weight="normal" font-style="normal">miRNA expression levels (a.u.)</tspan></text></g>
<text x="351.2" y="340.0" font-size="8.1" text-anchor="end" font-weight="normal" font-style="normal" fill="#222" stroke="#222" stroke-width="0.05" transform="rotate(-30 351.2 340.0)">miR-208b-3p</text>
<text x="414.2" y="340.0" font-size="8.1" text-anchor="end" font-weight="normal" font-style="normal" fill="#222" stroke="#222" stroke-width="0.05" transform="rotate(-30 414.2 340.0)">miR-483-3p</text>
</svg>
</body></html>
